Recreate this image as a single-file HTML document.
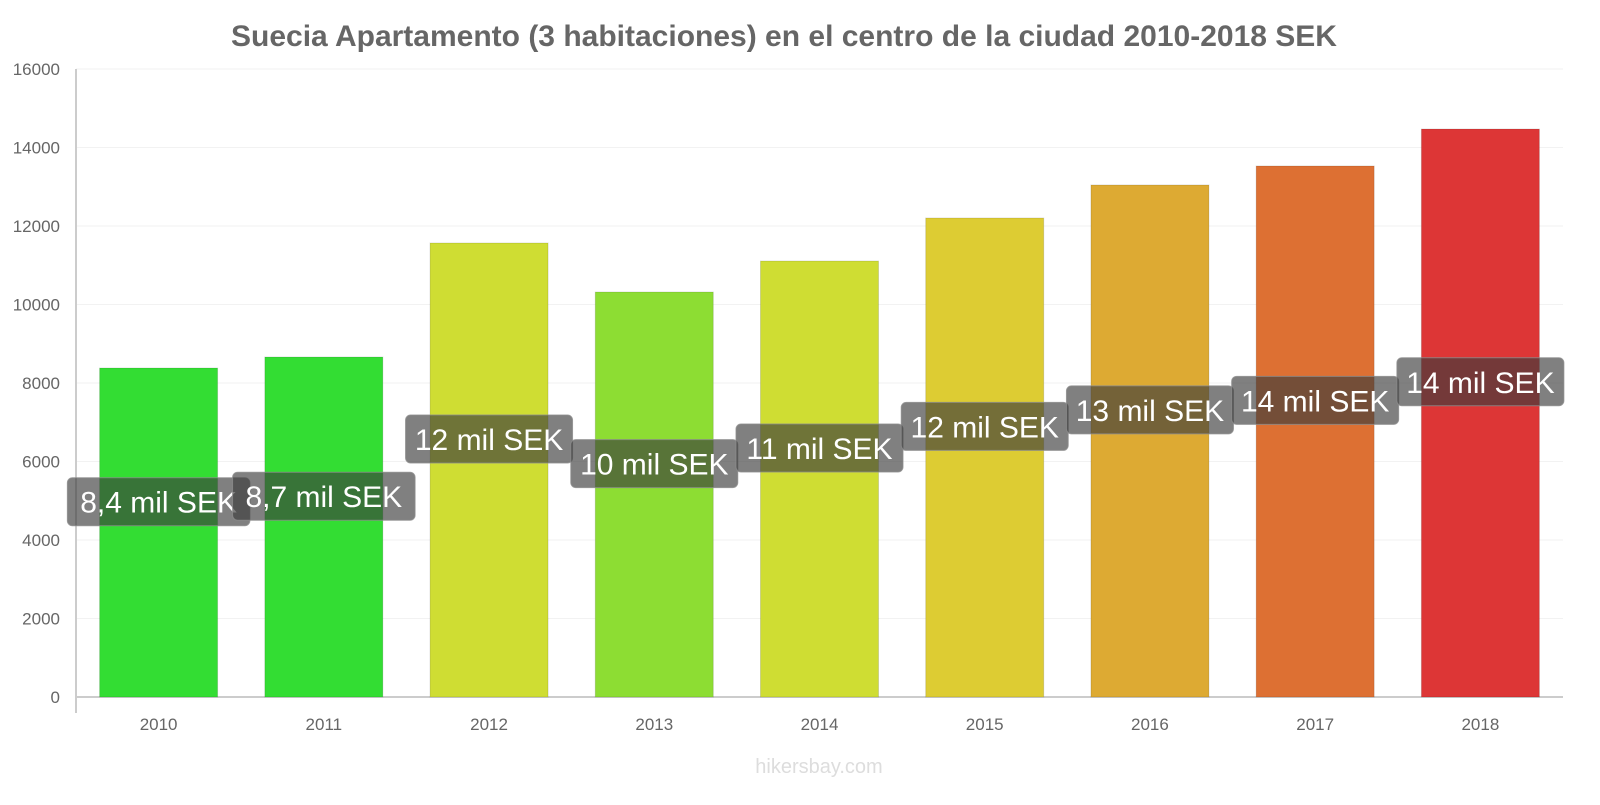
<!DOCTYPE html>
<html><head><meta charset="utf-8"><style>
body{margin:0;background:#fff;font-family:"Liberation Sans",sans-serif}
</style></head><body>
<svg id="c" width="1600" height="800" xmlns="http://www.w3.org/2000/svg"></svg>
<script>
const years=["2010","2011","2012","2013","2014","2015","2016","2017","2018"];
const values=[8382,8662,11567,10318,11108,12204,13045,13529,14471];
const labels=["8,4 mil SEK","8,7 mil SEK","12 mil SEK","10 mil SEK","11 mil SEK","12 mil SEK","13 mil SEK","14 mil SEK","14 mil SEK"];
const colors=["#33dd33","#33dd33","#cfdd33","#8ddd33","#cfdd33","#ddcc33","#ddaa33","#dd7033","#dd3636"];
const yTicks=[0,2000,4000,6000,8000,10000,12000,14000,16000];
const svg=document.getElementById('c');
const NS="http://www.w3.org/2000/svg";
const x0=76,x1=1563,y0=697,y1=69,ymax=16000;
const bw=(x1-x0)/years.length;
const y=v=>y0-(v/ymax)*(y0-y1);
const xc=i=>x0+bw*(i+0.5);
function mk(t,a,txt){const e=document.createElementNS(NS,t);for(const k in a)e.setAttribute(k,a[k]);if(txt!=null)e.textContent=txt;svg.appendChild(e);return e;}
let e;
e=mk('text',{x:784,y:46,'text-anchor':'middle','font-size':30,'font-weight':'bold',fill:'#666'},'Suecia Apartamento (3 habitaciones) en el centro de la ciudad 2010-2018 SEK');


yTicks.forEach(t=>{
 const g=mk('line',{x1:x0,x2:x1,y1:y(t),y2:y(t),stroke:t===0?'#ccc':'#f2f2f2','stroke-width':t===0?2:1});
 
 
 const l=mk('text',{x:60,y:y(t)+6,'text-anchor':'end','font-size':17,fill:'#666'},String(t));
 
 
});
e=mk('line',{x1:x0,x2:x0,y1:y1,y2:y0+16,stroke:'#ccc','stroke-width':2});


years.forEach((yr,i)=>{
 const top=y(values[i]);
 const b=mk('rect',{x:xc(i)-59,y:top,width:118,height:y0-top,fill:colors[i],stroke:'rgba(0,0,0,0.12)'});
 
 
 const t=mk('text',{x:xc(i),y:y0+33,'text-anchor':'middle','font-size':17,fill:'#666'},yr);
 
 
});
years.forEach((yr,i)=>{
 const top=y(values[i]);
 const ly=317+0.502*top;
 const w=labels[i].length*15.5+12;
 const r=mk('rect',{x:xc(i)-w/2,y:ly-24,width:w,height:48,rx:5,fill:'rgba(60,60,60,0.65)',stroke:'rgba(140,140,140,0.8)'});
 
 
 const t=mk('text',{x:xc(i),y:ly+11,'text-anchor':'middle','font-size':30,fill:'#fff'},labels[i]);
 
 
});
e=mk('text',{x:819,y:773,'text-anchor':'middle','font-size':20,fill:'#ddd'},'hikersbay.com');


</script>
</body></html>
